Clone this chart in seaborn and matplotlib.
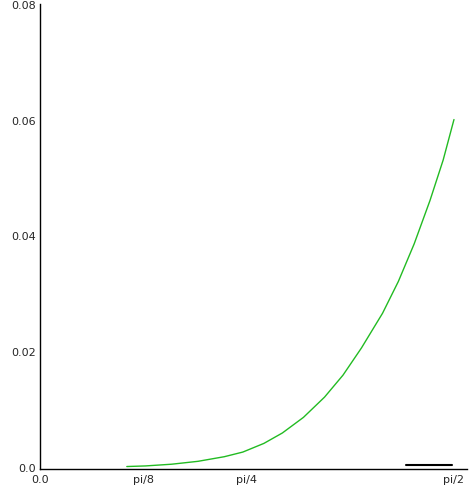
import matplotlib
matplotlib.use("Agg")
import matplotlib.pyplot as plt
import seaborn as sns
import numpy as np

sns.set_theme(style="white")
plt.rcParams['font.family'] = ['DejaVu Sans']

x_green = [0.33, 0.40, 0.50, 0.60, 0.70, 0.77, 0.85, 0.92, 1.00, 1.08, 1.15, 1.22, 1.30, 1.36, 1.42, 1.48, 1.53, 1.571]
y_green = [0.0, 0.0001, 0.0004, 0.0009, 0.0017, 0.0025, 0.0040, 0.0058, 0.0085, 0.0120, 0.0158, 0.0205, 0.0265, 0.0320, 0.0385, 0.0460, 0.0530, 0.0600]
x_black = [1.39, 1.565]
y_black = [0.0002, 0.0002]
xticks = [0.0, np.pi/8, np.pi/4, np.pi/2]
xtick_labels = ["0.0", "pi/8", "pi/4", "pi/2"]
yticks = [0.0, 0.02, 0.04, 0.06, 0.08]
ytick_labels = ["0.0", "0.02", "0.04", "0.06", "0.08"]

fig, ax = plt.subplots(figsize=(4.74, 4.89), dpi=100)
fig.subplots_adjust(left=0.084, right=0.985, bottom=0.038, top=0.99)
sns.lineplot(x=x_green, y=y_green, color="#22bb22", lw=1.0, ax=ax)
sns.lineplot(x=x_black, y=y_black, color="black", lw=1.5, ax=ax)
ax.set_xlim(0, 1.62)
ax.set_ylim(-0.0005, 0.0795)
ax.set_xticks(xticks)
ax.set_xticklabels(xtick_labels)
ax.set_yticks(yticks)
ax.set_yticklabels(ytick_labels)
ax.tick_params(labelsize=8, length=0, pad=3)
for s in ["top", "right"]:
    ax.spines[s].set_visible(False)
for s in ["left", "bottom"]:
    ax.spines[s].set_color("black")
    ax.spines[s].set_linewidth(1.0)
fig.savefig("out.png")
